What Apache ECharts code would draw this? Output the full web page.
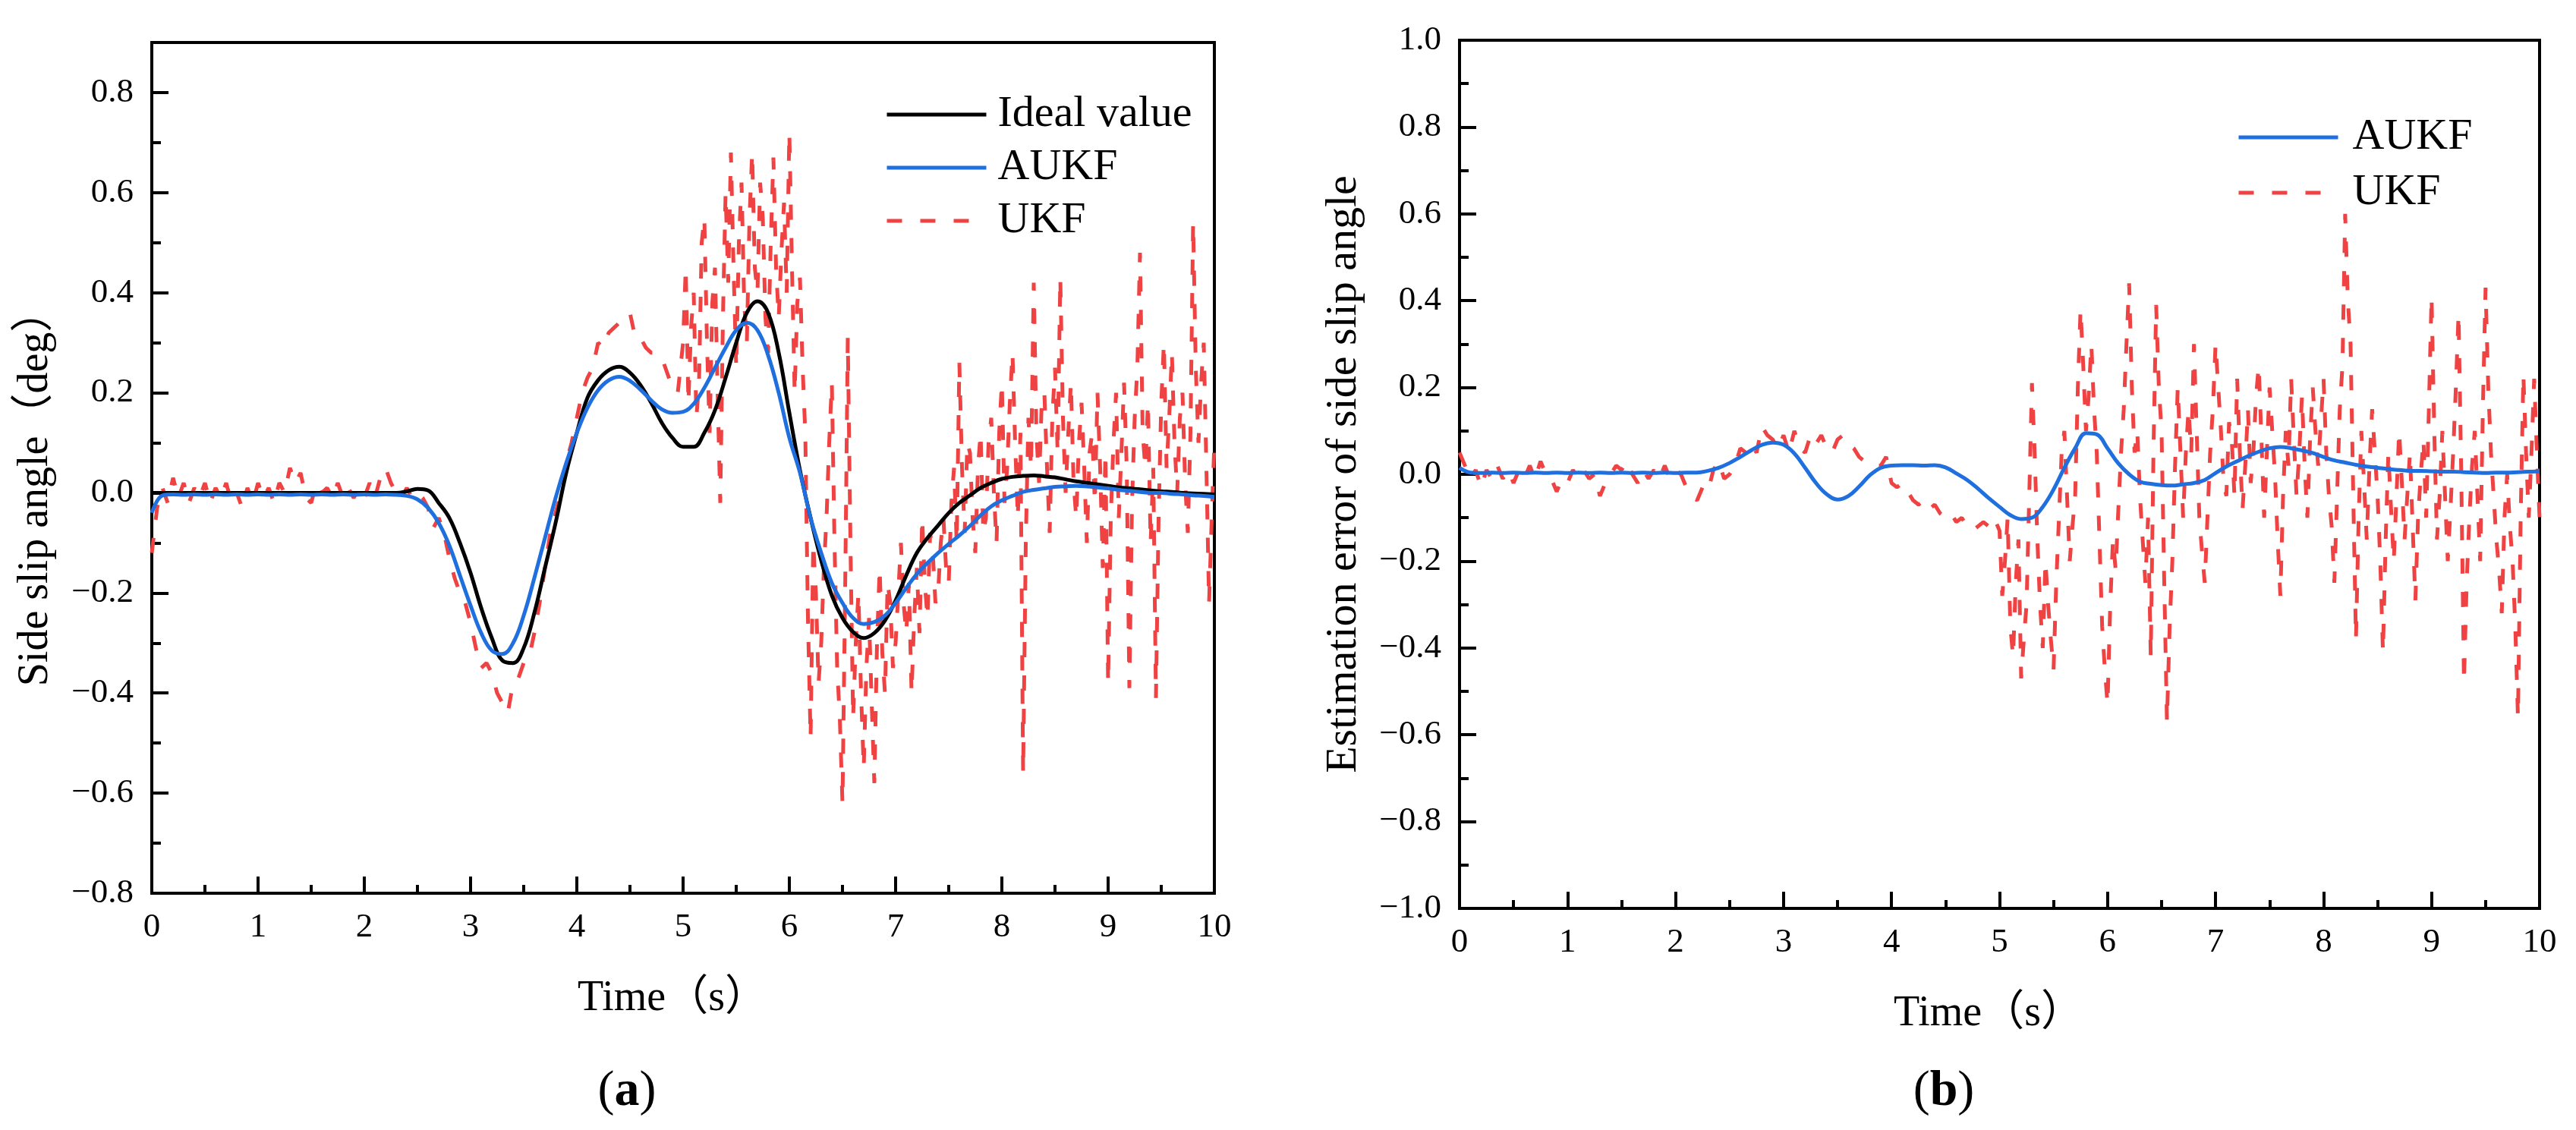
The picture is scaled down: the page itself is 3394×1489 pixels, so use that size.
<!DOCTYPE html>
<html>
<head>
<meta charset="utf-8">
<script src="https://cdn.jsdelivr.net/npm/echarts@6/dist/echarts.min.js"></script>
<style>
  html, body { margin: 0; padding: 0; background: #fff; }
  #chart { width: 3394px; height: 1489px; }
</style>
</head>
<body>
<div id="chart"></div>
<script>
// sample spacing (s): smooth curves, noisy curves before 5 s, noisy curves from 5 s
const smoothStep = 0.1;
const earlyStep = 0.05;
const lateStep = 0.025;
const lateStart = 5.0;

const xTicks = [0, 10, 1];
const leftYTicks = [-0.8, 0.9, 0.2];
const rightYTicks = [-1.0, 1.0, 0.2];

// (a) side slip angle, deg
const leftIdeal = [
  0, 0, 0, 0, 0, 0, 0, 0, 0, 0, 0, 0, 0, 0, 0, 0, 0, 0, 0, 0, 0, 0, 0, 0,
  0.003, 0.008, 0.005, -0.02, -0.05, -0.10, -0.16, -0.23, -0.29, -0.335,
  -0.34, -0.31, -0.24, -0.15, -0.06, 0.04, 0.12, 0.19, 0.225, 0.245,
  0.252, 0.24, 0.215, 0.18, 0.14, 0.11, 0.092, 0.092, 0.12, 0.165,
  0.23, 0.30, 0.36, 0.383, 0.36, 0.28, 0.16, 0.045, -0.05, -0.135,
  -0.205, -0.25, -0.278, -0.29, -0.28, -0.255, -0.215, -0.165, -0.12, -0.09,
  -0.065, -0.04, -0.02, -0.005, 0.01, 0.02, 0.028, 0.032, 0.034, 0.035,
  0.033, 0.031, 0.027, 0.023, 0.02, 0.017, 0.014, 0.011, 0.009, 0.007,
  0.005, 0.003, 0.002, 0.0, -0.001, -0.002, -0.003
];
const leftAukf = [
  -0.04, -0.005, -0.003, -0.004, -0.003, -0.004, -0.003, -0.004, -0.003, -0.004,
  -0.003, -0.004, -0.003, -0.004, -0.003, -0.004, -0.003, -0.004, -0.003, -0.004,
  -0.003, -0.004, -0.003, -0.004,
  -0.006, -0.013, -0.03, -0.06, -0.105, -0.165, -0.225, -0.28, -0.315, -0.322,
  -0.3, -0.245, -0.17, -0.09, -0.01, 0.06, 0.12, 0.17, 0.205, 0.225,
  0.232, 0.224, 0.206, 0.185, 0.167, 0.16, 0.162, 0.178, 0.21, 0.25,
  0.29, 0.325, 0.34, 0.325, 0.275, 0.2, 0.11, 0.04, -0.05, -0.12,
  -0.18, -0.22, -0.25, -0.262, -0.258, -0.245, -0.22, -0.19, -0.162, -0.14,
  -0.12, -0.102, -0.085, -0.066, -0.045, -0.027, -0.015, -0.006, 0.002, 0.006,
  0.009, 0.012, 0.013, 0.014, 0.013, 0.011, 0.009, 0.006, 0.004, 0.002,
  0.0, 0.0, -0.002, -0.003, -0.005, -0.006, -0.008
];
// UKF, 0 .. 4.95 s
const leftUkfEarly = [
  -0.12, -0.03, 0.01, -0.02, 0.03, -0.01, 0.02, -0.02, 0.01, -0.01,
  0.02, -0.02, 0.01, -0.01, 0.02, -0.02, 0.00, -0.03, 0.01, -0.02,
  0.02, -0.01, 0.01, -0.02, 0.02, 0.00, 0.05, 0.02, 0.04, -0.01,
  -0.02, 0.02, 0.00, 0.01, -0.01, 0.02, -0.01, 0.01, -0.01, 0.01,
  -0.01, 0.02, -0.01, 0.03, 0.05, 0.02, 0.00, -0.01, 0.01, -0.01,
  0.00, -0.01, -0.03, -0.07, -0.05, -0.08, -0.13, -0.17, -0.20, -0.22,
  -0.26, -0.31, -0.35, -0.34, -0.36, -0.40, -0.42, -0.44, -0.38, -0.37,
  -0.34, -0.33, -0.28, -0.22, -0.15, -0.08, -0.04, 0.00, 0.06, 0.10,
  0.15, 0.20, 0.23, 0.25, 0.30, 0.29, 0.32, 0.33, 0.34, 0.35,
  0.36, 0.31, 0.31, 0.29, 0.28, 0.28, 0.27, 0.24, 0.21, 0.20
];
// UKF, 5 .. 10 s
const leftUkfLate = [
  0.30, 0.45, 0.18, 0.33, 0.40, 0.15, 0.22, 0.50, 0.55, 0.30,
  0.12, 0.38, 0.45, 0.20, -0.02, 0.35, 0.60, 0.42, 0.68, 0.45,
  0.25, 0.50, 0.62, 0.38, 0.30, 0.55, 0.68, 0.45, 0.40, 0.62,
  0.55, 0.35, 0.28, 0.50, 0.67, 0.45, 0.35, 0.48, 0.58, 0.40,
  0.72, 0.45, 0.20, 0.38, 0.43, 0.25, 0.12, -0.25, -0.49, -0.10,
  -0.20, -0.38, -0.30, -0.15, -0.05, 0.10, 0.22, -0.10, -0.35, -0.45,
  -0.62, -0.20, 0.31, -0.10, -0.45, -0.30, -0.20, -0.40, -0.55, -0.35,
  -0.25, -0.42, -0.58, -0.30, -0.15, -0.32, -0.40, -0.18, -0.22, -0.35,
  -0.30, -0.20, -0.10, -0.22, -0.28, -0.18, -0.40, -0.25, -0.15, -0.28,
  -0.05, -0.18, -0.25, -0.08, -0.12, -0.22, -0.20, -0.10, -0.05, -0.15,
  -0.18, -0.02, 0.05, -0.10, 0.26, 0.05, -0.08, 0.10, 0.08, -0.05,
  -0.12, 0.05, 0.12, -0.08, -0.05, 0.10, 0.15, 0.00, -0.10, 0.12,
  0.22, -0.02, 0.05, 0.18, 0.28, 0.10, -0.05, 0.12, -0.56, -0.10,
  0.15, 0.05, 0.42, 0.12, 0.02, 0.18, 0.20, 0.05, -0.08, 0.15,
  0.25, 0.08, 0.43, 0.15, 0.00, 0.12, 0.22, 0.02, -0.05, 0.10,
  0.18, 0.05, -0.10, 0.08, 0.12, -0.02, 0.20, 0.05, -0.15, 0.08,
  -0.38, -0.05, 0.10, 0.20, -0.05, 0.08, 0.22, 0.05, -0.39, -0.02,
  0.15, 0.25, 0.48, 0.12, 0.05, 0.18, -0.10, 0.05, -0.41, -0.05,
  0.18, 0.30, 0.05, 0.15, 0.28, 0.10, 0.00, 0.15, 0.20, 0.02,
  -0.08, 0.12, 0.54, 0.25, 0.10, 0.22, 0.30, 0.05, -0.22, -0.05,
  0.10
];

// (b) estimation error of side slip angle
const rightAukf = [
  0.015, 0.004, 0.003, 0.004, 0.003, 0.004, 0.003, 0.004, 0.003, 0.004,
  0.003, 0.004, 0.003, 0.004, 0.003, 0.004, 0.003, 0.004, 0.003, 0.004,
  0.003, 0.004, 0.004,
  0.008, 0.015, 0.026, 0.04, 0.055, 0.068, 0.073, 0.068, 0.048, 0.015,
  -0.02, -0.046, -0.058, -0.05, -0.028, -0.002, 0.015, 0.02, 0.021, 0.021,
  0.02, 0.021, 0.016, 0.002, -0.013, -0.033, -0.055, -0.075, -0.094, -0.103,
  -0.1, -0.075, -0.035, 0.015, 0.06, 0.095, 0.092, 0.06, 0.025, 0.0,
  -0.017, -0.022, -0.025, -0.026, -0.023, -0.02, -0.013, 0.003, 0.018, 0.03,
  0.042, 0.052, 0.06, 0.063, 0.06, 0.055, 0.049, 0.04, 0.032, 0.027,
  0.022, 0.018, 0.015, 0.012, 0.01, 0.008, 0.008, 0.007, 0.006, 0.006,
  0.005, 0.004, 0.003, 0.004, 0.004, 0.005, 0.006, 0.007
];
const rightUkfEarly = [
  0.05, 0.02, -0.01, 0.01, -0.03, 0.01, -0.01, 0.02, -0.01, 0.01,
  -0.02, 0.01, -0.01, 0.02, -0.01, 0.03, 0.00, -0.01, -0.04, -0.01,
  -0.02, 0.01, -0.01, 0.01, -0.01, 0.00, -0.05, -0.02, 0.00, 0.02,
  0.01, 0.03, 0.00, -0.02, 0.01, -0.01, 0.01, -0.01, 0.02, -0.01,
  0.01, 0.00, -0.03, -0.05, -0.06, -0.03, -0.04, 0.01, 0.03, -0.01,
  0.00, 0.02, 0.06, 0.05, 0.07, 0.05, 0.11, 0.09, 0.08, 0.06,
  0.09, 0.05, 0.10, 0.06, 0.05, 0.09, 0.07, 0.09, 0.06, 0.05,
  0.08, 0.09, 0.07, 0.06, 0.04, 0.03, 0.02, 0.02, 0.02, 0.04,
  -0.02, -0.03, -0.02, -0.04, -0.06, -0.07, -0.06, -0.08, -0.07, -0.09,
  -0.10, -0.09, -0.11, -0.10, -0.12, -0.13, -0.12, -0.11, -0.12, -0.10
];
const rightUkfLate = [
  -0.13, -0.28, -0.20, -0.10, -0.35, -0.42, -0.25, -0.15, -0.47, -0.38,
  -0.30, -0.05, 0.21, 0.05, -0.15, -0.30, -0.40, -0.20, -0.30, -0.38,
  -0.45, -0.25, -0.10, 0.05, 0.10, -0.05, -0.20, -0.12, -0.05, 0.20,
  0.38, 0.25, 0.10, 0.18, 0.30, 0.15, 0.05, -0.15, -0.35, -0.45,
  -0.53, -0.30, -0.15, -0.22, -0.08, 0.05, 0.15, 0.30, 0.44, 0.20,
  0.05, 0.10, -0.05, -0.15, -0.25, -0.10, -0.42, 0.05, 0.39, 0.20,
  0.10, -0.25, -0.57, -0.35, -0.20, 0.02, 0.20, 0.05, -0.10, 0.05,
  0.15, 0.05, 0.30, 0.10, -0.10, -0.18, -0.25, -0.10, 0.05, 0.15,
  0.30, 0.20, 0.10, -0.02, -0.05, 0.12, 0.08, -0.05, 0.22, 0.05,
  -0.08, 0.02, 0.15, -0.02, 0.05, 0.18, 0.25, 0.08, -0.10, 0.05,
  0.20, 0.10, 0.00, -0.15, -0.28, -0.05, 0.10, 0.02, 0.22, 0.08,
  -0.05, 0.05, 0.18, 0.02, -0.10, 0.08, 0.20, 0.10, 0.02, 0.12,
  0.22, 0.05, -0.05, -0.12, -0.25, -0.05, 0.15, 0.25, 0.60, 0.40,
  0.30, -0.05, -0.38, -0.10, 0.10, -0.02, -0.15, 0.02, 0.15, 0.05,
  -0.05, -0.20, -0.41, -0.15, 0.05, -0.08, -0.20, -0.05, 0.10, -0.02,
  -0.15, -0.05, 0.05, -0.12, -0.29, -0.10, 0.00, 0.08, -0.10, 0.15,
  0.41, 0.10, -0.15, -0.05, 0.10, -0.05, -0.20, -0.08, 0.05, 0.20,
  0.37, 0.00, -0.48, -0.25, -0.10, 0.02, 0.10, -0.05, -0.20, 0.15,
  0.43, 0.20, 0.05, -0.05, -0.15, -0.22, -0.32, -0.10, 0.00, -0.12,
  -0.20, -0.35, -0.56, -0.10, 0.23, 0.05, -0.10, 0.05, 0.22, 0.05,
  -0.10
];

const SERIF = 'Liberation Serif, Noto Sans CJK SC, serif';
const BLACK = '#000000';
const BLUE = '#1f6fde';
const RED = '#ef4242';
const DASH = [20, 24];

function pairs(values, start, step) {
  return values.map((v, i) => [+(start + i * step).toFixed(3), v]);
}

function fmtNum(v) {
  return (v < 0 ? '\u2212' : '') + Math.abs(v).toFixed(1);
}

function xAxisFor(gridIndex) {
  return {
    type: 'value', gridIndex: gridIndex,
    min: xTicks[0], max: xTicks[1], interval: xTicks[2],
    axisLine: { show: true, onZero: false, lineStyle: { color: BLACK, width: 4 } },
    axisTick: { show: true, inside: true, length: 22, lineStyle: { color: BLACK, width: 4 } },
    minorTick: { show: true, splitNumber: 2, length: 11, lineStyle: { color: BLACK, width: 4 } },
    splitLine: { show: false },
    axisLabel: { color: BLACK, fontFamily: SERIF, fontSize: 45, margin: 23 }
  };
}

function yAxisFor(gridIndex, ticks) {
  return {
    type: 'value', gridIndex: gridIndex,
    min: ticks[0], max: ticks[1], interval: ticks[2],
    axisLine: { show: true, onZero: false, lineStyle: { color: BLACK, width: 4 } },
    axisTick: { show: true, inside: true, length: 22, lineStyle: { color: BLACK, width: 4 } },
    minorTick: { show: true, splitNumber: 2, length: 12, lineStyle: { color: BLACK, width: 4 } },
    splitLine: { show: false },
    axisLabel: {
      color: BLACK, fontFamily: SERIF, fontSize: 45, margin: 24,
      showMaxLabel: ticks[1] === 1.0, formatter: fmtNum
    }
  };
}

function lineSeries(name, data, color, dashed, gridIndex) {
  return {
    name: name, type: 'line',
    xAxisIndex: gridIndex, yAxisIndex: gridIndex,
    data: data,
    symbol: 'none', showSymbol: false,
    smooth: dashed ? false : 0.4,
    clip: true,
    lineStyle: { color: color, width: 5, type: dashed ? DASH : 'solid' },
    itemStyle: { color: color },
    emphasis: { disabled: true }
  };
}

function legendAt(left, top, names, gap, textGap) {
  return {
    data: names, orient: 'vertical', left: left, top: top,
    itemWidth: 131, itemHeight: 20, itemGap: gap,
    selectedMode: false,
    itemStyle: { opacity: 0 },
    lineStyle: { width: 5 },
    textStyle: { color: BLACK, fontFamily: SERIF, fontSize: 58, lineHeight: 58, padding: [0, 0, 0, textGap] }
  };
}

function label(text, x, y, size, rotate) {
  return {
    type: 'text', x: x, y: y, rotation: rotate ? Math.PI / 2 : 0,
    style: {
      text: text, fill: BLACK, fontSize: size, fontFamily: SERIF,
      align: 'center', verticalAlign: 'middle'
    }
  };
}

function panelTag(letter, x, y) {
  return {
    type: 'text', x: x, y: y,
    style: {
      text: '{p|(}{b|' + letter + '}{p|)}',
      align: 'center', verticalAlign: 'middle',
      rich: {
        p: { fontFamily: SERIF, fontSize: 66, fill: BLACK },
        b: { fontFamily: SERIF, fontSize: 66, fontWeight: 'bold', fill: BLACK }
      }
    }
  };
}

const chart = echarts.init(document.getElementById('chart'), null, { renderer: 'canvas' });
chart.setOption({
  animation: false,
  backgroundColor: '#ffffff',
  grid: [
    { left: 200, top: 56, width: 1400, height: 1121, show: true, borderColor: BLACK, borderWidth: 4 },
    { left: 1923, top: 53, width: 1423, height: 1144, show: true, borderColor: BLACK, borderWidth: 4 }
  ],
  xAxis: [xAxisFor(0), xAxisFor(1)],
  yAxis: [yAxisFor(0, leftYTicks), yAxisFor(1, rightYTicks)],
  legend: [
    legendAt(1161, 117, ['Ideal value', 'AUKF', 'UKF'], 12, 10),
    legendAt(2942, 147, ['AUKF', 'UKF'], 15, 14)
  ],
  series: [
    lineSeries('UKF', pairs(leftUkfEarly, 0, earlyStep).concat(pairs(leftUkfLate, lateStart, lateStep)), RED, true, 0),
    lineSeries('Ideal value', pairs(leftIdeal, 0, smoothStep), BLACK, false, 0),
    lineSeries('AUKF', pairs(leftAukf, 0, smoothStep), BLUE, false, 0),
    lineSeries('UKF', pairs(rightUkfEarly, 0, earlyStep).concat(pairs(rightUkfLate, lateStart, lateStep)), RED, true, 1),
    lineSeries('AUKF', pairs(rightAukf, 0, smoothStep), BLUE, false, 1)
  ],
  graphic: [
    label('Side slip angle（deg）', 47, 643, 56, true),
    label('Estimation error of side slip angle', 1771, 625, 58, true),
    label('Time（s）', 886, 1316, 56, false),
    label('Time（s）', 2620, 1336, 56, false),
    panelTag('a', 826, 1439),
    panelTag('b', 2561, 1439)
  ]
});
</script>
</body>
</html>
